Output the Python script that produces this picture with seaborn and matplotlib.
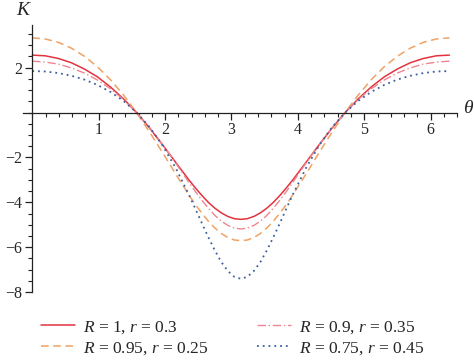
import matplotlib
import pandas as pd
import seaborn as sns
from matplotlib import pyplot as plt
from matplotlib.ticker import MultipleLocator

matplotlib.use("Agg")

sns.set_style("white")
plt.rcParams["font.family"] = ["Liberation Serif", "DejaVu Serif"]
plt.rcParams["mathtext.fontset"] = "custom"
plt.rcParams["mathtext.rm"] = "Liberation Serif"
plt.rcParams["mathtext.it"] = "Liberation Serif:italic"

# theta samples (0 .. 2*pi), denser around the minimum
theta = [0.0, 0.196, 0.393, 0.589, 0.785, 0.982, 1.178, 1.374, 1.571, 1.767, 1.963,
         2.160, 2.356, 2.454, 2.553, 2.651, 2.749, 2.847, 2.945, 3.043, 3.142,
         3.240, 3.338, 3.436, 3.534, 3.632, 3.731, 3.829, 3.927, 4.123, 4.320,
         4.516, 4.712, 4.909, 5.105, 5.301, 5.498, 5.694, 5.890, 6.087, 6.283]

# K values
k_r1 = [2.56, 2.53, 2.41, 2.22, 1.94, 1.59, 1.14, 0.61, 0.00, -0.69, -1.44,
        -2.22, -2.99, -3.35, -3.69, -4.00, -4.26, -4.47, -4.63, -4.73, -4.76,
        -4.73, -4.63, -4.47, -4.26, -4.00, -3.69, -3.35, -2.99, -2.22, -1.44,
        -0.69, 0.00, 0.61, 1.14, 1.59, 1.94, 2.22, 2.41, 2.53, 2.56]
k_r095 = [3.33, 3.28, 3.13, 2.87, 2.51, 2.04, 1.46, 0.78, 0.00, -0.87, -1.79,
          -2.74, -3.66, -4.09, -4.48, -4.84, -5.14, -5.39, -5.57, -5.68, -5.71,
          -5.68, -5.57, -5.39, -5.14, -4.84, -4.48, -4.09, -3.66, -2.74, -1.79,
          -0.87, 0.00, 0.78, 1.46, 2.04, 2.51, 2.87, 3.13, 3.28, 3.33]
k_r09 = [2.29, 2.25, 2.16, 1.99, 1.76, 1.45, 1.06, 0.58, 0.00, -0.67, -1.43,
         -2.25, -3.10, -3.51, -3.90, -4.26, -4.58, -4.84, -5.03, -5.15, -5.19,
         -5.15, -5.03, -4.84, -4.58, -4.26, -3.90, -3.51, -3.10, -2.25, -1.43,
         -0.67, 0.00, 0.58, 1.06, 1.45, 1.76, 1.99, 2.16, 2.25, 2.29]
k_r075 = [1.85, 1.83, 1.76, 1.64, 1.47, 1.23, 0.92, 0.52, 0.00, -0.65, -1.47,
          -2.47, -3.64, -4.27, -4.92, -5.55, -6.14, -6.66, -7.06, -7.32, -7.41,
          -7.32, -7.06, -6.66, -6.14, -5.55, -4.92, -4.27, -3.64, -2.47, -1.47,
          -0.65, 0.00, 0.52, 0.92, 1.23, 1.47, 1.64, 1.76, 1.83, 1.85]

labels = [r"$R$ = 1, $r$ = 0.3", r"$R$ = 0.95, $r$ = 0.25",
          r"$R$ = 0.9, $r$ = 0.35", r"$R$ = 0.75, $r$ = 0.45"]

styles = [
    ("#e2333f", "-", 1.1),
    ("#f0a263", (0, (5, 3)), 1.1),
    ("#ee8590", (0, (6, 2, 1, 2)), 1.0),
    ("#3b5f9e", (0, (1, 2.2)), 1.3),
]

fig = plt.figure(figsize=(4.74, 3.61), dpi=100)
ax = fig.add_axes([0.0485, 0.191, 0.916, 0.7396])

for vals, lab, (col, ls, lw) in zip([k_r1, k_r095, k_r09, k_r075], labels, styles):
    df = pd.DataFrame({"theta": theta, "K": vals})
    sns.lineplot(data=df, x="theta", y="K", ax=ax, color=col, linestyle=ls,
                 linewidth=lw, label=lab)

ax.set_xlim(-0.14, 6.40)
ax.set_ylim(-8, 3.9)
ax.spines["left"].set_position(("data", 0))
ax.spines["bottom"].set_position(("data", 0))
ax.spines["top"].set_visible(False)
ax.spines["right"].set_visible(False)
for s in ["left", "bottom"]:
    ax.spines[s].set_color("#222222")
    ax.spines[s].set_linewidth(0.9)

ax.set_xticks([1, 2, 3, 4, 5, 6])
ax.xaxis.set_minor_locator(MultipleLocator(0.2))
ax.set_yticks([-8, -6, -4, -2, 2])
ax.set_yticklabels(["\u22128", "\u22126", "\u22124", "\u22122", "2"])
ax.yaxis.set_minor_locator(MultipleLocator(0.5))
ax.tick_params(which="major", direction="out", length=5, width=0.9,
               color="#222222", labelsize=11.5, pad=2)
ax.tick_params(which="minor", direction="out", length=3, width=0.8, color="#222222")
ax.tick_params(axis="both", which="both", bottom=True, left=True)

ax.set_xlabel("")
ax.set_ylabel("")
fig.text(0.05, 0.972, r"$K$", fontsize=14, ha="center", va="center")
fig.text(0.988, 0.70, r"$\theta$", fontsize=14, ha="center", va="center")

handles, labs = ax.get_legend_handles_labels()
ax.legend(handles, labs, loc="upper left", bbox_to_anchor=(0.053, 0.16),
          bbox_transform=fig.transFigure, ncol=2, frameon=False, fontsize=12.5,
          handlelength=2.0, handletextpad=0.45, columnspacing=2.77,
          labelspacing=0.25, borderpad=0.4)

fig.savefig("out.png", dpi=100)
